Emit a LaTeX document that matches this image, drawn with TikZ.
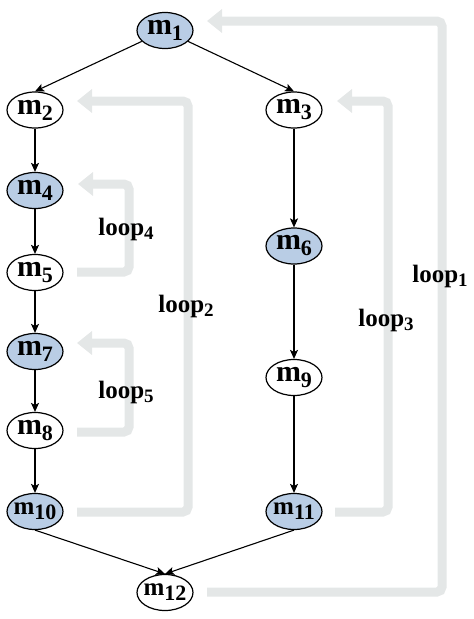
\documentclass[tikz,border=0pt]{standalone}
\usepackage{fontspec}
\setmainfont{Liberation Serif}
\usetikzlibrary{shapes.geometric,arrows.meta}
\definecolor{loopgray}{HTML}{E4E7E7}
\definecolor{nodeblue}{HTML}{B9CDE5}
\newcommand\mA[1]{\makebox[34pt][c]{\fontsize{30}{30}\selectfont m\raisebox{-6pt}{\fontsize{22}{22}\selectfont #1}}}
\newcommand\mB[1]{\makebox[34pt][c]{\fontsize{25}{25}\selectfont m\raisebox{-5pt}{\fontsize{22}{22}\selectfont #1}}}
\newcommand\lp[1]{loop\raisebox{-4pt}{\fontsize{19}{19}\selectfont #1}}
\begin{document}
\begin{tikzpicture}[x=1pt,y=-1pt,
  mnode/.style={ellipse,draw=black,line width=1.2pt,fill=white,minimum width=56pt,minimum height=36pt,inner sep=0pt,font=\bfseries},
  bluenode/.style={mnode,fill=nodeblue},
  edge/.style={draw=black,line width=1.1pt,-{Stealth[length=9pt,width=8pt,inset=2pt]}},
  loopbar/.style={draw=loopgray,line width=9pt,rounded corners=5pt,-{Triangle[length=15pt,width=23pt]}},
  looplab/.style={font=\bfseries\fontsize{25}{25}\selectfont,inner sep=0pt}]
\useasboundingbox (0,0) rectangle (474,619);
% loops
\coordinate (l1s) at (207,592);
\coordinate (l1a) at (442,592);
\coordinate (l1b) at (442,21);
\coordinate (l1e) at (207,21);
\draw[loopbar] (l1s) -- (l1a) -- (l1b) -- (l1e);
\coordinate (l2s) at (77,512);
\coordinate (l2a) at (188,512);
\coordinate (l2b) at (188,101);
\coordinate (l2e) at (77,101);
\draw[loopbar] (l2s) -- (l2a) -- (l2b) -- (l2e);
\coordinate (l3s) at (335,512);
\coordinate (l3a) at (388,512);
\coordinate (l3b) at (388,101);
\coordinate (l3e) at (337,101);
\draw[loopbar] (l3s) -- (l3a) -- (l3b) -- (l3e);
\coordinate (l4s) at (77,272);
\coordinate (l4a) at (129,272);
\coordinate (l4b) at (129,184);
\coordinate (l4e) at (78,184);
\draw[loopbar] (l4s) -- (l4a) -- (l4b) -- (l4e);
\coordinate (l5s) at (77,432);
\coordinate (l5a) at (129,432);
\coordinate (l5b) at (129,343);
\coordinate (l5e) at (77,343);
\draw[loopbar] (l5s) -- (l5a) -- (l5b) -- (l5e);
% labels
\node[looplab] (t1) at (440,276) {\lp{1}};
\node[looplab] (t2) at (186,306) {\lp{2}};
\node[looplab] (t3) at (386,320) {\lp{3}};
\node[looplab] (t4) at (126,229) {\lp{4}};
\node[looplab] (t5) at (126,392) {\lp{5}};
% nodes
\node[bluenode] (m1) at (165,30.5) {\mA{1}};
\node[mnode] (m2) at (35,110) {\mA{2}};
\node[mnode] (m3) at (294,110) {\mA{3}};
\node[bluenode] (m4) at (35,190.5) {\mA{4}};
\node[mnode] (m5) at (35,272.5) {\mA{5}};
\node[bluenode] (m6) at (294,246) {\mA{6}};
\node[bluenode] (m7) at (35,351.5) {\mA{7}};
\node[mnode] (m8) at (35,430.5) {\mA{8}};
\node[mnode] (m9) at (294,377.5) {\mA{9}};
\node[bluenode] (m10) at (35,511.5) {\mB{10}};
\node[bluenode] (m11) at (294,511.5) {\mB{11}};
\node[mnode] (m12) at (165,592.5) {\mB{12}};
% edges
\draw[edge] (m1) -- (m2.north);
\draw[edge] (m1) -- (m3.north);
\draw[edge] (m2) -- (m4);
\draw[edge] (m4) -- (m5);
\draw[edge] (m5) -- (m7);
\draw[edge] (m7) -- (m8);
\draw[edge] (m8) -- (m10);
\draw[edge] (m3) -- (m6);
\draw[edge] (m6) -- (m9);
\draw[edge] (m9) -- (m11);
\draw[edge] (m10.south) -- (m12.north);
\draw[edge] (m11.south) -- (m12.north);
\end{tikzpicture}
\end{document}
